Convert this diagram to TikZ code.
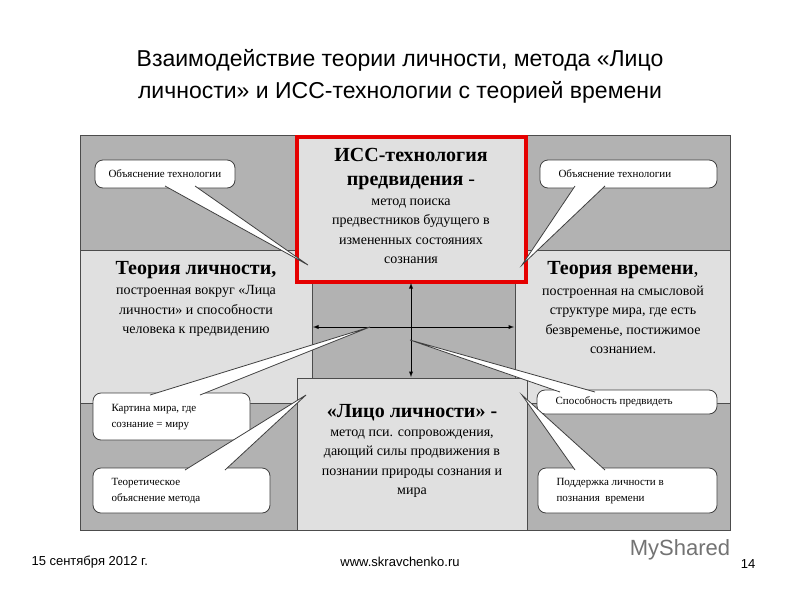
\documentclass[tikz,border=0pt]{standalone}
\usepackage{fontspec}
\setmainfont{Liberation Serif}
\newfontfamily\sansf{Liberation Sans}
\begin{document}
\begin{tikzpicture}[x=1pt,y=-1pt,
  dark/.style={fill=black!30,draw=black!70,line width=0.8pt},
  light/.style={fill=black!12,draw=black!70,line width=0.8pt},
  call/.style={draw=black!75,fill=white,rounded corners=8pt,line width=0.8pt},
  ptr/.style={draw=black!75,fill=white,line width=0.8pt},
  ctext/.style={font=\fontsize{11}{16}\selectfont,align=left,anchor=west},
  btext/.style={align=center,font=\fontsize{14}{19.5}\selectfont,anchor=north},
  head/.style={font=\bfseries\fontsize{20}{24}\selectfont,align=center},
  arr/.style={line width=0.9pt,latex-latex}]
\useasboundingbox (0,0) rectangle (800,600);
\fill[white] (0,0) rectangle (800,600);
\node[font=\sansf\fontsize{23}{32}\selectfont,align=center] (title) at (400,76) {Взаимодействие теории личности, метода «Лицо\\личности» и ИСС-технологии с теорией времени};
% background
\draw[dark] (80,135) rectangle (730,530);
\draw[light] (80,250) rectangle (312,403);
\draw[light] (515,250) rectangle (730,403);
\draw[dark] (312,280) rectangle (515,378);
\draw[light] (297,378) rectangle (527,530);
\draw[fill=black!12,draw=red!90!black,line width=4.5pt] (297,137) rectangle (526,282);
\node[head] (issh) at (411,169) {ИСС-технология\\предвидения\textmd{ -}};
\node[btext] (iss) at (411,195) {метод поиска\\предвестников будущего в\\измененных состояниях\\сознания};
\node[head] (tlh) at (196,270) {Теория личности,};
\node[btext] (tl) at (196,282) {построенная вокруг «Лица\\личности» и способности\\человека к предвидению};
\node[head] (tvh) at (623,270) {Теория времени\textmd{,}};
\node[btext] (tv) at (623,282) {построенная на смысловой\\структуре мира, где есть\\безвременье, постижимое\\сознанием.};
\node[head] (lich) at (412,413) {«Лицо личности» -};
\node[btext] (lic) at (412,426) {метод пси. сопровождения,\\дающий силы продвижения в\\познании природы сознания и\\мира};
% arrows
\coordinate (hl) at (313,327); \coordinate (hr) at (514,327);
\coordinate (vt) at (411,283); \coordinate (vb) at (411,377);
\draw[arr] (hl) -- (hr);
\draw[arr] (vt) -- (vb);
% callouts
\coordinate (t1) at (308,265); \coordinate (t2) at (522,265);
\coordinate (t3) at (370,327); \coordinate (t4) at (306,395);
\coordinate (t5) at (410,340); \coordinate (t6) at (522,395);
\draw[call] (95,160) rectangle (235,188); \node[ctext] (c1) at (105,174) {Объяснение технологии};
\filldraw[ptr] (165,186) -- (t1) -- (195,186);
\draw[call] (540,160) rectangle (717,188); \node[ctext] (c2) at (555,174) {Объяснение технологии};
\filldraw[ptr] (575,186) -- (t2) -- (605,186);
\draw[call] (93,393) rectangle (250,440); \node[ctext,align=left] (c3) at (108,417) {Картина мира, где\\сознание = миру};
\filldraw[ptr] (150,395) -- (t3) -- (200,395);
\draw[call] (93,468) rectangle (270,513); \node[ctext] (c4) at (108,491) {Теоретическое\\объяснение метода};
\filldraw[ptr] (185,470) -- (t4) -- (225,470);
\draw[call] (537,390) rectangle (717,414); \node[ctext] (c5) at (552,402) {Способность предвидеть};
\filldraw[ptr] (560,392) -- (t5) -- (595,392);
\draw[call] (538,468) rectangle (717,513); \node[ctext] (c6) at (553,491) {Поддержка личности в\\познания\ \ времени};
\filldraw[ptr] (575,470) -- (t6) -- (605,470);
% footer
\node[font=\sansf\fontsize{13}{15}\selectfont,anchor=west] (date) at (28,562) {15 сентября 2012 г.};
\node[font=\sansf\fontsize{13}{15}\selectfont] (url) at (400,562) {www.skravchenko.ru};
\node[font=\sansf\fontsize{22}{24}\selectfont,text=black!55] (ms) at (680,550) {MyShared};
\node[font=\sansf\fontsize{13}{15}\selectfont] (pg) at (748,564) {14};
\end{tikzpicture}
\end{document}
